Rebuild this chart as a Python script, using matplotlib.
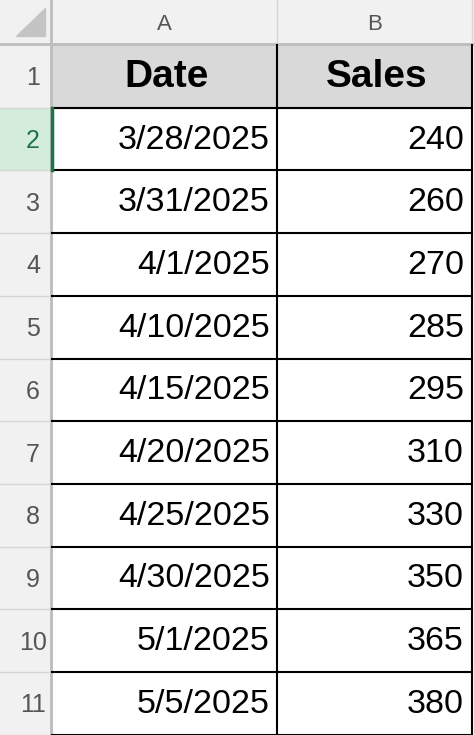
import matplotlib
matplotlib.use("Agg")
import matplotlib.pyplot as plt
from matplotlib.patches import Rectangle, Polygon

headers = ["Date", "Sales"]
dates = ["3/28/2025", "3/31/2025", "4/1/2025", "4/10/2025", "4/15/2025",
         "4/20/2025", "4/25/2025", "4/30/2025", "5/1/2025", "5/5/2025"]
sales = [240, 260, 270, 285, 295, 310, 330, 350, 365, 380]
col_letters = ["A", "B"]

W, H = 474, 735
fig = plt.figure(figsize=(W/100, H/100), dpi=100)
ax = fig.add_axes([0, 0, 1, 1])
ax.set_xlim(0, W); ax.set_ylim(H, 0); ax.axis("off")
FONT = "Liberation Sans"

hdr_h = 45
rn_w = 52
xs = [rn_w, 277, 472]
row_h = 62.7
nrows = len(dates) + 1
ys = [hdr_h + i*row_h for i in range(nrows + 1)]

ax.add_patch(Rectangle((0, 0), W, H, color="white", zorder=0))
ax.add_patch(Rectangle((0, 0), W, hdr_h, color="#f1f1f1", zorder=1))
ax.add_patch(Rectangle((0, 0), rn_w, H, color="#f1f1f1", zorder=1))
ax.add_patch(Polygon([[45, 8], [45, 36], [16, 36]], color="#c4c4c4", zorder=2))
ax.plot([0, W], [hdr_h-1, hdr_h-1], color="#bdbdbd", lw=2, zorder=3)
ax.plot([rn_w-1, rn_w-1], [0, H], color="#bdbdbd", lw=2, zorder=3)
ax.add_patch(Rectangle((rn_w, ys[0]), xs[-1]-rn_w, row_h, color="#d9d9d9", zorder=1))
ax.add_patch(Rectangle((0, ys[1]), rn_w, row_h, color="#d3ecdc", zorder=2))
ax.plot([rn_w, rn_w], [ys[1], ys[2]], color="#217346", lw=2.5, zorder=5)

for i, c in enumerate(col_letters):
    ax.text((xs[i]+xs[i+1])/2, hdr_h/2+2, c, ha="center", va="center",
            fontsize=16, color="#555555", family=FONT, zorder=4)
    ax.plot([xs[i+1], xs[i+1]], [0, hdr_h], color="#d6d6d6", lw=1, zorder=3)
for r in range(nrows):
    ax.text(33, (ys[r]+ys[r+1])/2 + 2, str(r+1), ha="center", va="center",
            fontsize=18, color="#217346" if r == 1 else "#555555", family=FONT, zorder=4)
    ax.plot([0, rn_w], [ys[r+1], ys[r+1]], color="#d6d6d6", lw=1, zorder=3)

for y in ys[1:]:
    ax.plot([rn_w, xs[-1]], [y, y], color="black", lw=1.5, zorder=4)
for x in xs[1:]:
    ax.plot([x, x], [ys[0], ys[-1]], color="black", lw=1.5, zorder=4)

for i, h in enumerate(headers):
    ax.text((xs[i]+xs[i+1])/2 + 2, (ys[0]+ys[1])/2 + 1, h, ha="center", va="center",
            fontsize=28, fontweight="bold", family=FONT, zorder=5)
for r, (d, s) in enumerate(zip(dates, sales)):
    yc = (ys[r+1]+ys[r+2])/2 + 1
    ax.text(xs[1]-7, yc, d, ha="right", va="center", fontsize=24.5, family=FONT, zorder=5)
    ax.text(xs[2]-8, yc, str(s), ha="right", va="center", fontsize=24.5, family=FONT, zorder=5)

fig.savefig("out.png", dpi=100)
